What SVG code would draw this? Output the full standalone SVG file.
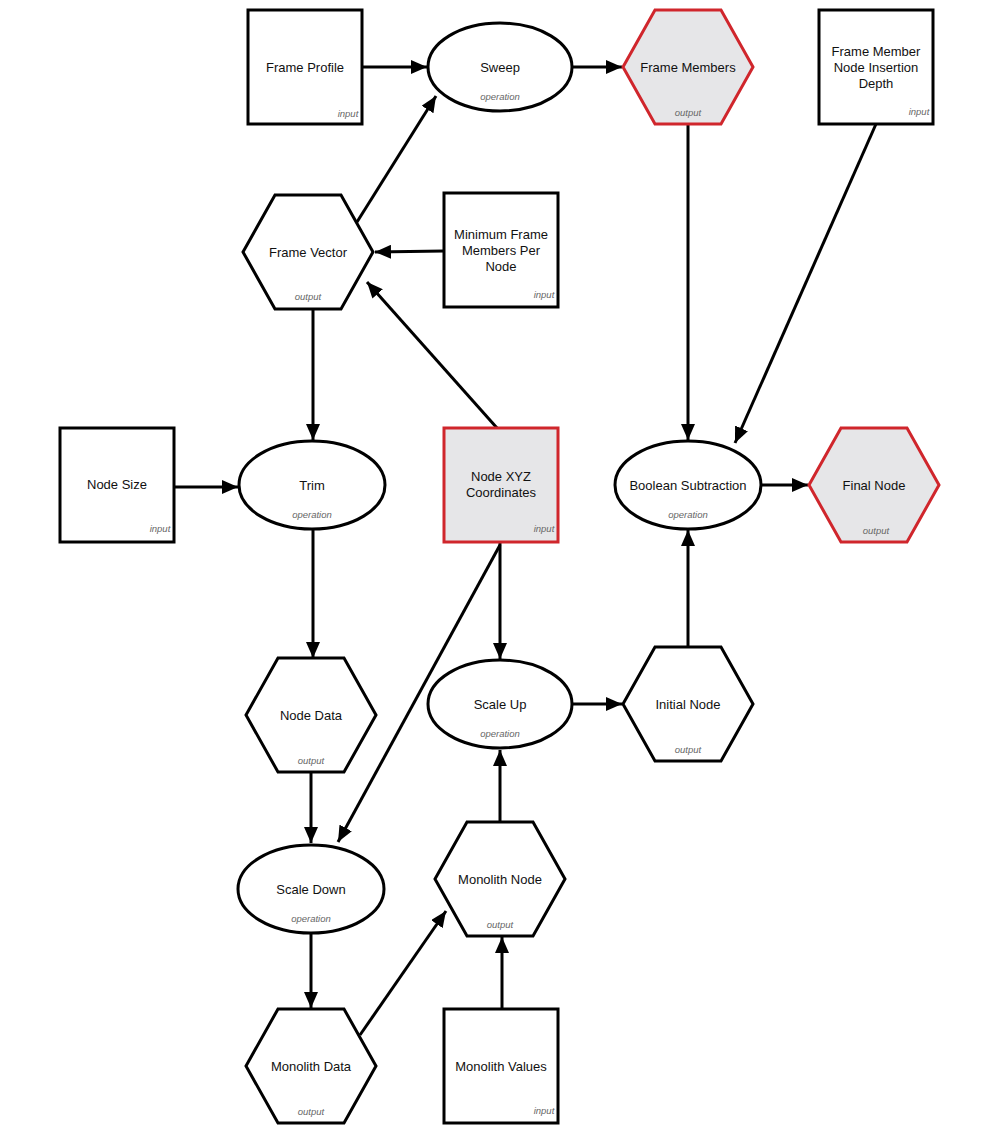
<svg xmlns="http://www.w3.org/2000/svg" width="1000" height="1137" viewBox="0 0 1000 1137">
<style>
.n{fill:#fff;stroke:#000;stroke-width:3}
.r{fill:#e6e6e8;stroke:#d0262c;stroke-width:3}
.t{font-family:"Liberation Sans",Arial,sans-serif;font-size:13px;fill:#111;text-anchor:middle}
.s{font-family:"Liberation Sans",Arial,sans-serif;font-size:9.5px;font-style:italic;fill:#666;text-anchor:middle}
.e{fill:none;stroke:#000;stroke-width:3;marker-end:url(#a)}
</style>
<defs><marker id="a" markerUnits="userSpaceOnUse" markerWidth="16" markerHeight="14" refX="16" refY="7" orient="auto"><path d="M0,0L16,7L0,14z" fill="#000"/></marker></defs>
<rect width="1000" height="1137" fill="#fff"/>
<g id="edges">
<line class="e" x1="362" y1="67" x2="427" y2="67"/>
<line class="e" x1="572" y1="67" x2="622" y2="67"/>
<line class="e" x1="357" y1="222" x2="436" y2="96"/>
<line class="e" x1="444" y1="251" x2="375" y2="252"/>
<line class="e" x1="497" y1="428" x2="367" y2="282"/>
<line class="e" x1="313" y1="309" x2="313" y2="440"/>
<line class="e" x1="174" y1="487" x2="238" y2="487"/>
<line class="e" x1="688" y1="124" x2="688" y2="440"/>
<line class="e" x1="876" y1="124" x2="735" y2="443"/>
<line class="e" x1="761" y1="485" x2="808" y2="485"/>
<line class="e" x1="313" y1="530" x2="313" y2="658"/>
<line class="e" x1="500" y1="542" x2="500" y2="659"/>
<line class="e" x1="500" y1="545" x2="338" y2="842"/>
<line class="e" x1="572" y1="704" x2="622" y2="704"/>
<line class="e" x1="688" y1="647" x2="688" y2="530"/>
<line class="e" x1="311" y1="772" x2="311" y2="843"/>
<line class="e" x1="500" y1="822" x2="500" y2="750"/>
<line class="e" x1="311" y1="933" x2="311" y2="1008"/>
<line class="e" x1="360" y1="1035" x2="446" y2="911"/>
<line class="e" x1="502" y1="1009" x2="502" y2="937"/>
</g>
<g id="frame-profile"><rect class="n" x="248" y="10" width="114" height="114"/><text class="t" x="305" y="72">Frame Profile</text><text class="s" x="348" y="117">input</text></g>
<g id="fmnid"><rect class="n" x="819" y="10" width="114" height="114"/><text class="t" x="876" y="56">Frame Member</text><text class="t" x="876" y="72">Node Insertion</text><text class="t" x="876" y="88">Depth</text><text class="s" x="919" y="115">input</text></g>
<g id="min-frame"><rect class="n" x="444" y="193" width="114" height="114"/><text class="t" x="501" y="239">Minimum Frame</text><text class="t" x="501" y="255">Members Per</text><text class="t" x="501" y="271">Node</text><text class="s" x="544" y="298">input</text></g>
<g id="node-size"><rect class="n" x="60" y="428" width="114" height="114"/><text class="t" x="117" y="489">Node Size</text><text class="s" x="160" y="532">input</text></g>
<g id="node-xyz"><rect class="r" x="444" y="428" width="114" height="114"/><text class="t" x="501" y="481">Node XYZ</text><text class="t" x="501" y="497">Coordinates</text><text class="s" x="544" y="532">input</text></g>
<g id="monolith-values"><rect class="n" x="444" y="1009" width="114" height="114"/><text class="t" x="501" y="1071">Monolith Values</text><text class="s" x="544" y="1114">input</text></g>
<g id="sweep"><ellipse class="n" cx="500" cy="67" rx="72" ry="44"/><text class="t" x="500" y="72">Sweep</text><text class="s" x="500" y="100">operation</text></g>
<g id="trim"><ellipse class="n" cx="312" cy="485" rx="73" ry="44"/><text class="t" x="312" y="490">Trim</text><text class="s" x="312" y="518">operation</text></g>
<g id="boolean"><ellipse class="n" cx="688" cy="485" rx="73" ry="44"/><text class="t" x="688" y="490">Boolean Subtraction</text><text class="s" x="688" y="518">operation</text></g>
<g id="scale-up"><ellipse class="n" cx="500" cy="704" rx="72" ry="44"/><text class="t" x="500" y="709">Scale Up</text><text class="s" x="500" y="737">operation</text></g>
<g id="scale-down"><ellipse class="n" cx="311" cy="889" rx="73" ry="44"/><text class="t" x="311" y="894">Scale Down</text><text class="s" x="311" y="922">operation</text></g>
<g id="frame-members"><polygon class="r" points="623,67 655,10 721,10 753,67 721,124 655,124"/><text class="t" x="688" y="72">Frame Members</text><text class="s" x="688" y="116">output</text></g>
<g id="frame-vector"><polygon class="n" points="243,252 275,195 341,195 373,252 341,309 275,309"/><text class="t" x="308" y="257">Frame Vector</text><text class="s" x="308" y="300">output</text></g>
<g id="final-node"><polygon class="r" points="809,485 841,428 907,428 939,485 907,542 841,542"/><text class="t" x="874" y="490">Final Node</text><text class="s" x="876" y="534">output</text></g>
<g id="node-data"><polygon class="n" points="246,715 278,658 344,658 376,715 344,772 278,772"/><text class="t" x="311" y="720">Node Data</text><text class="s" x="311" y="764">output</text></g>
<g id="initial-node"><polygon class="n" points="623,704 655,647 721,647 753,704 721,761 655,761"/><text class="t" x="688" y="709">Initial Node</text><text class="s" x="688" y="753">output</text></g>
<g id="monolith-node"><polygon class="n" points="435,879 467,822 533,822 565,879 533,936 467,936"/><text class="t" x="500" y="884">Monolith Node</text><text class="s" x="500" y="928">output</text></g>
<g id="monolith-data"><polygon class="n" points="246,1066 278,1009 344,1009 376,1066 344,1123 278,1123"/><text class="t" x="311" y="1071">Monolith Data</text><text class="s" x="311" y="1115">output</text></g>
</svg>
